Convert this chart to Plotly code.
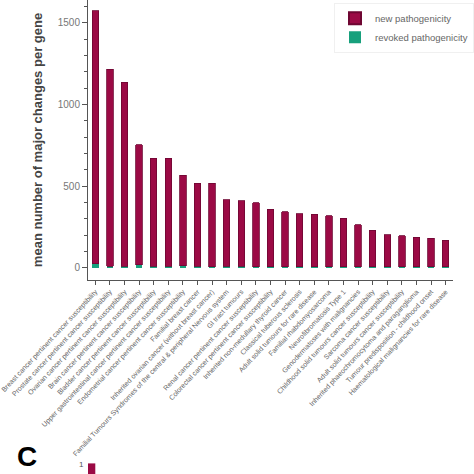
import plotly.graph_objects as go

categories = [
    "Breast cancer pertinent cancer susceptibility",
    "Prostate cancer pertinent cancer susceptibility",
    "Ovarian cancer pertinent cancer susceptibility",
    "Brain cancer pertinent cancer susceptibility",
    "Bladder cancer pertinent cancer susceptibility",
    "Upper gastrointestinal cancer pertinent cancer susceptibility",
    "Endometrial cancer pertinent cancer susceptibility",
    "Familial breast cancer",
    "Inherited ovarian cancer (without breast cancer)",
    "Familial Tumours Syndromes of the central & peripheral Nervous system",
    "GI tract tumours",
    "Renal cancer pertinent cancer susceptibility",
    "Colorectal cancer pertinent cancer susceptibility",
    "Inherited non-medullary thyroid cancer",
    "Classical tuberous sclerosis",
    "Adult solid tumours for rare disease",
    "Familial rhabdomyosarcoma",
    "Neurofibromatosis Type 1",
    "Genodermatoses with malignancies",
    "Childhood solid tumours cancer susceptibility",
    "Sarcoma cancer susceptibility",
    "Adult solid tumours cancer susceptibility",
    "Inherited phaeochromocytoma and paraganglioma",
    "Tumour predisposition - childhood onset",
    "Haematological malignancies for rare disease",
]
new_pathogenicity = [1549, 1205, 1125, 735, 662, 662, 554, 509, 511, 408, 402,
                     392, 353, 337, 325, 321, 311, 298, 257, 223, 196, 190, 182, 174, 162]
revoked_pathogenicity = [25, 10, 10, 18, 8, 8, 12, 8, 6, 8, 8,
                         6, 6, 6, 6, 6, 6, 6, 6, 6, 6, 6, 6, 6, 6]

fig = go.Figure()
fig.add_trace(go.Bar(x=categories, y=revoked_pathogenicity, name="revoked pathogenicity",
                     marker=dict(color="#17a07c", line=dict(width=0))))
fig.add_trace(go.Bar(x=categories, y=new_pathogenicity, name="new pathogenicity",
                     marker=dict(color="#9b0a45", line=dict(color="#6e0632", width=0.8))))

fig.update_layout(
    barmode="stack",
    bargap=0.55,
    width=474, height=474,
    margin=dict(l=83, r=0, t=0, b=194),
    plot_bgcolor="white", paper_bgcolor="white",
    font=dict(family="Liberation Sans, Arial, sans-serif", color="#555"),
    legend=dict(traceorder="reversed", x=0.675, y=0.99, xanchor="left", yanchor="top",
                bgcolor="white", bordercolor="#f0f0f0", borderwidth=1,
                font=dict(size=9.5, color="#666"), itemsizing="constant",
                tracegroupgap=0),
    xaxis=dict(showline=True, linecolor="#555", linewidth=1, ticks="outside", ticklen=4,
               tickcolor="#555", tickangle=-47, tickfont=dict(size=7, color="#666"),
               showgrid=False),
    yaxis=dict(range=[-75, 1639], showline=True, linecolor="#555", linewidth=1,
               ticks="outside", ticklen=5, tickcolor="#555", dtick=500,
               tickfont=dict(size=10, color="#777"), showgrid=False, zeroline=False,
               minor=dict(dtick=100, ticks="outside", ticklen=3, tickcolor="#555"),
               title=dict(text="<b>mean number of major changes per gene</b>",
                          font=dict(size=13, color="#444"), standoff=12)),
)

fig.add_annotation(text="<b>C</b>", xref="paper", yref="paper", x=-0.2, y=-0.63,
                   xanchor="left", yanchor="middle", showarrow=False,
                   font=dict(size=28, color="black", family="Liberation Sans, Arial"))
fig.add_annotation(text="1", xref="paper", yref="paper", x=-0.005, y=-0.66,
                   xanchor="right", yanchor="middle", showarrow=False,
                   font=dict(size=8, color="#555"))
fig.add_shape(type="rect", xref="paper", yref="paper", x0=0.0, x1=0.02, y0=-0.7, y1=-0.655,
              fillcolor="#9b0a45", line=dict(width=0))

fig.write_html("out.html")
